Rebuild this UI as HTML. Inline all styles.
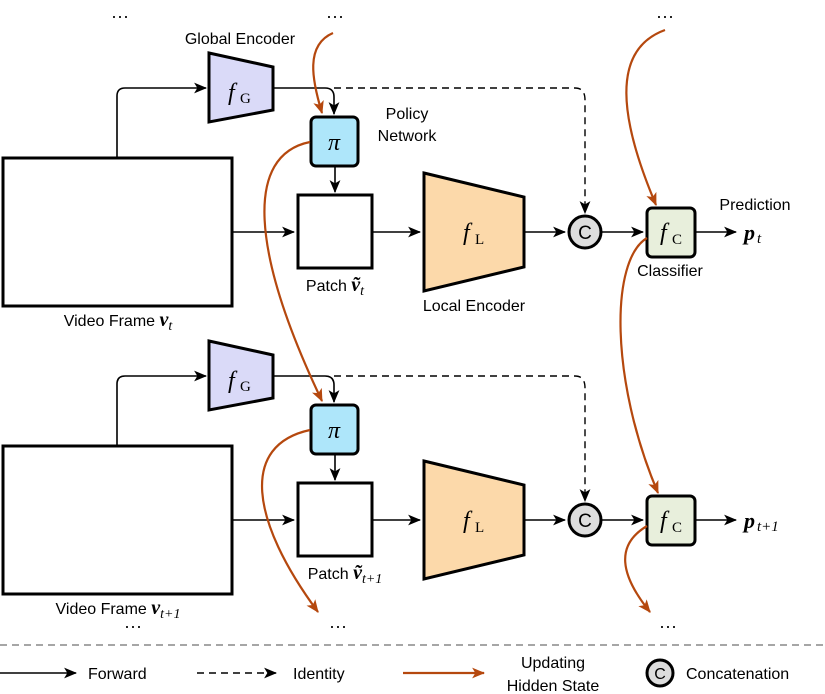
<!DOCTYPE html>
<html><head><meta charset="utf-8"><style>
body{margin:0;background:#fff}
svg{display:block}
text{font-family:"Liberation Sans",sans-serif;fill:#000}
.m{font-family:"Liberation Serif",serif;font-style:italic}
.r{font-family:"Liberation Serif",serif;font-style:normal}
</style></head><body>
<svg width="825" height="694" viewBox="0 0 825 694" xmlns="http://www.w3.org/2000/svg">
<defs>
<marker id="a" viewBox="0 0 12 10" refX="11" refY="5" markerWidth="13" markerHeight="11" markerUnits="userSpaceOnUse" orient="auto"><path d="M0,0 L12,5 L0,10 L3,5 Z" fill="#000"/></marker>
<marker id="o" viewBox="0 0 12 10" refX="11" refY="5" markerWidth="13" markerHeight="11" markerUnits="userSpaceOnUse" orient="auto"><path d="M0,0 L12,5 L0,10 L3,5 Z" fill="#b5480e"/></marker>
</defs>
<g id="top">
<rect x="3" y="158" width="229" height="148" fill="#fff" stroke="#000" stroke-width="3"/>
<path d="M117,158 V96 Q117,88 125,88 H206" fill="none" stroke="#000" stroke-width="1.6" marker-end="url(#a)"/>
<polygon points="209,53 273,67 273,110 209,122" fill="#dadaf8" stroke="#000" stroke-width="3"/>
<text x="228" y="100" class="m" font-size="24">f</text><text x="240" y="103" class="r" font-size="15">G</text>
<path d="M273,88 H325 Q334,88 334,97 V114" fill="none" stroke="#000" stroke-width="1.6" marker-end="url(#a)"/>
<path d="M334,88 H575 Q585,88 585,100 V213" fill="none" stroke="#000" stroke-width="1.4" stroke-dasharray="7,5" marker-end="url(#a)"/>
<rect x="311" y="117" width="47" height="49" rx="5" fill="#aee6fa" stroke="#000" stroke-width="3"/>
<text x="334" y="150" class="m" font-size="24" text-anchor="middle">π</text>
<path d="M335,166 V192" stroke="#000" stroke-width="1.6" marker-end="url(#a)"/>
<rect x="298" y="195" width="74" height="73" fill="#fff" stroke="#000" stroke-width="3"/>
<path d="M232,232 H294" stroke="#000" stroke-width="1.6" marker-end="url(#a)"/>
<path d="M372,232 H420" stroke="#000" stroke-width="1.6" marker-end="url(#a)"/>
<polygon points="424,173 524,197 524,267 424,291" fill="#fcd9aa" stroke="#000" stroke-width="3"/>
<text x="463" y="240" class="m" font-size="24">f</text><text x="475" y="244" class="r" font-size="15">L</text>
<path d="M524,232 H565" stroke="#000" stroke-width="1.6" marker-end="url(#a)"/>
<circle cx="585" cy="232" r="16" fill="#ddd" stroke="#000" stroke-width="3"/>
<text x="585" y="239" font-size="19" text-anchor="middle">C</text>
<path d="M602,232 H643" stroke="#000" stroke-width="1.6" marker-end="url(#a)"/>
<rect x="647" y="208" width="48" height="49" rx="5" fill="#e8efdc" stroke="#000" stroke-width="3"/>
<text x="660" y="240" class="m" font-size="24">f</text><text x="672" y="244" class="r" font-size="15">C</text>
<path d="M695,232 H736" stroke="#000" stroke-width="1.6" marker-end="url(#a)"/>
</g>
<use href="#top" transform="translate(0,288)"/>
<text x="118" y="326" font-size="16" text-anchor="middle">Video Frame <tspan class="m" font-weight="bold" font-size="20">v</tspan><tspan class="m" font-size="14" dy="4">t</tspan></text>
<text x="118" y="614" font-size="16" text-anchor="middle">Video Frame <tspan class="m" font-weight="bold" font-size="20">v</tspan><tspan class="m" font-size="14" dy="4">t+1</tspan></text>
<text x="335" y="291" font-size="16" text-anchor="middle">Patch <tspan class="m" font-weight="bold" font-size="20">ṽ</tspan><tspan class="m" font-size="14" dy="4">t</tspan></text>
<text x="345" y="579" font-size="16" text-anchor="middle">Patch <tspan class="m" font-weight="bold" font-size="20">ṽ</tspan><tspan class="m" font-size="14" dy="4">t+1</tspan></text>
<text x="240" y="44" font-size="16" text-anchor="middle">Global Encoder</text>
<text x="407" y="119" font-size="16" text-anchor="middle">Policy</text>
<text x="407" y="141" font-size="16" text-anchor="middle">Network</text>
<text x="474" y="311" font-size="16" text-anchor="middle">Local Encoder</text>
<text x="670" y="276" font-size="16" text-anchor="middle">Classifier</text>
<text x="755" y="210" font-size="16" text-anchor="middle">Prediction</text>
<text x="744" y="240" class="m" font-weight="bold" font-size="22">p</text><text x="757" y="243" class="m" font-size="15">t</text>
<text x="744" y="528" class="m" font-weight="bold" font-size="22">p</text><text x="757" y="531" class="m" font-size="15">t+1</text>
<g font-size="18" text-anchor="middle">
<text x="120" y="22">···</text><text x="335" y="22">···</text><text x="665" y="22">···</text>
<text x="133" y="632">···</text><text x="338" y="632">···</text><text x="668" y="632">···</text>
</g>
<g fill="none" stroke="#b5480e" stroke-width="2.2">
<path d="M333,33 C305,45 312,80 322,113" marker-end="url(#o)"/>
<path d="M310,142 C245,155 250,250 322,401" marker-end="url(#o)"/>
<path d="M310,430 C240,445 250,520 318,612" marker-end="url(#o)"/>
<path d="M665,30 C610,50 620,120 656,205" marker-end="url(#o)"/>
<path d="M647,238 C610,260 610,380 658,493" marker-end="url(#o)"/>
<path d="M647,526 C615,545 620,575 650,612" marker-end="url(#o)"/>
</g>
<line x1="0" y1="645" x2="825" y2="645" stroke="#888" stroke-width="1.6" stroke-dasharray="7,5"/>
<path d="M0,673 H76" stroke="#000" stroke-width="1.6" marker-end="url(#a)"/>
<text x="88" y="679" font-size="16">Forward</text>
<path d="M197,673 H276" stroke="#000" stroke-width="1.4" stroke-dasharray="7,5" marker-end="url(#a)"/>
<text x="293" y="679" font-size="16">Identity</text>
<path d="M403,673 H484" stroke="#b5480e" stroke-width="2.2" marker-end="url(#o)"/>
<text x="553" y="668" font-size="16" text-anchor="middle">Updating</text>
<text x="553" y="691" font-size="16" text-anchor="middle">Hidden State</text>
<circle cx="660" cy="673" r="13" fill="#ddd" stroke="#000" stroke-width="3"/>
<text x="660" y="679" font-size="16" text-anchor="middle">C</text>
<text x="686" y="679" font-size="16">Concatenation</text>
</svg>
</body></html>
